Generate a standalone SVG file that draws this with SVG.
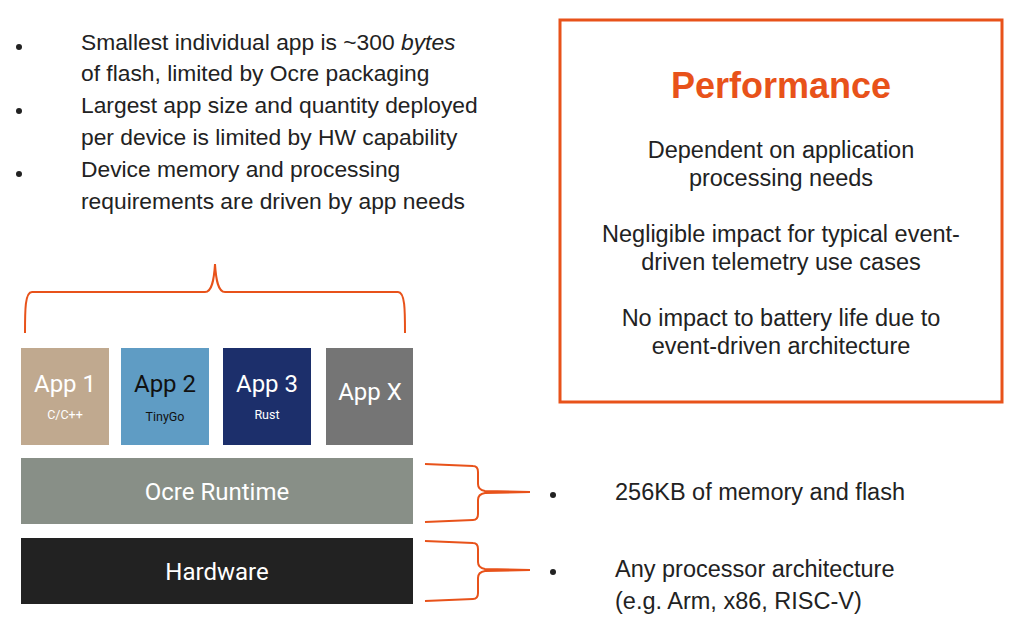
<svg xmlns="http://www.w3.org/2000/svg" width="1024" height="623" viewBox="0 0 1024 623">
<style>
.t{font-family:"Liberation Sans",Arial,sans-serif;fill:#222}
.r{font-family:Roboto,"Liberation Sans",sans-serif;fill:#fff;text-anchor:middle}
.br{fill:none;stroke:#e8521a;stroke-width:2}
.c{text-anchor:middle;font-size:23.5px}
</style>
<rect width="1024" height="623" fill="#fff"/>
<g id="bullets" class="t" font-size="22.8">
<circle cx="19" cy="47" r="3" fill="#222"/><circle cx="19" cy="111" r="3" fill="#222"/><circle cx="19" cy="174" r="3" fill="#222"/>
<text x="81" y="50">Smallest individual app is ~300 <tspan font-style="italic">bytes</tspan></text>
<text x="81" y="81">of flash, limited by Ocre packaging</text>
<text x="81" y="113">Largest app size and quantity deployed</text>
<text x="81" y="145">per device is limited by HW capability</text>
<text x="81" y="177">Device memory and processing</text>
<text x="81" y="209">requirements are driven by app needs</text>
</g>
<g id="performance">
<rect x="560" y="20" width="442" height="382" fill="none" stroke="#e8521a" stroke-width="3"/>
<text x="781" y="98" class="t" text-anchor="middle" font-size="36" font-weight="bold" style="fill:#e8521a">Performance</text>
<g class="t c"><text x="781" y="158">Dependent on application</text><text x="781" y="186">processing needs</text>
<text x="781" y="242">Negligible impact for typical event-</text><text x="781" y="270">driven telemetry use cases</text>
<text x="781" y="326">No impact to battery life due to</text><text x="781" y="354">event-driven architecture</text></g>
</g>
<g id="app1"><rect x="21" y="348" width="88" height="97" fill="#c0a98f"/><text x="65" y="392" class="r" font-size="24">App 1</text><text x="65" y="419" class="r" font-size="12.5">C/C++</text></g>
<g id="app2"><rect x="121" y="348" width="88" height="97" fill="#5f9cc4"/><text x="165" y="392" class="r" font-size="24" style="fill:#111">App 2</text><text x="165" y="421" class="r" font-size="12.5" style="fill:#111">TinyGo</text></g>
<g id="app3"><rect x="223" y="348" width="88" height="97" fill="#1c2f6b"/><text x="267" y="392" class="r" font-size="24">App 3</text><text x="267" y="419" class="r" font-size="12.5">Rust</text></g>
<g id="appx"><rect x="326" y="348" width="87" height="97" fill="#757575"/><text x="370" y="400" class="r" font-size="24">App X</text></g>
<g id="runtime"><rect x="21" y="458" width="392" height="66" fill="#888f87"/><text x="217" y="500" class="r" font-size="24">Ocre Runtime</text></g>
<g id="hardware"><rect x="21" y="538" width="392" height="66" fill="#222"/><text x="217" y="580" class="r" font-size="24">Hardware</text></g>
<g id="connectors">
<path class="br" d="M25,333 C25,310 25,292 32,292 L205,292 C212,292 214,280 215,264 C216,280 218,292 225,292 L398,292 C405,292 405,310 405,333"/>
<path class="br" d="M425,464 L473,466 Q478,466 478,472 L478,484 Q478,490 485,491 L530,492 L485,493 Q478,494 478,500 L478,514 Q478,520 473,520 L425,522"/>
<path class="br" d="M425,541 L473,543 Q478,543 478,549 L478,562 Q478,568 485,569 L530,570 L485,571 Q478,572 478,578 L478,593 Q478,599 473,599 L425,601"/>
</g>
<g id="notes" class="t" font-size="23.5">
<circle cx="553" cy="495" r="3" fill="#222"/><circle cx="553" cy="572" r="3" fill="#222"/>
<text x="615" y="500">256KB of memory and flash</text>
<text x="615" y="577">Any processor architecture</text>
<text x="615" y="609">(e.g. Arm, x86, RISC-V)</text>
</g>
</svg>
